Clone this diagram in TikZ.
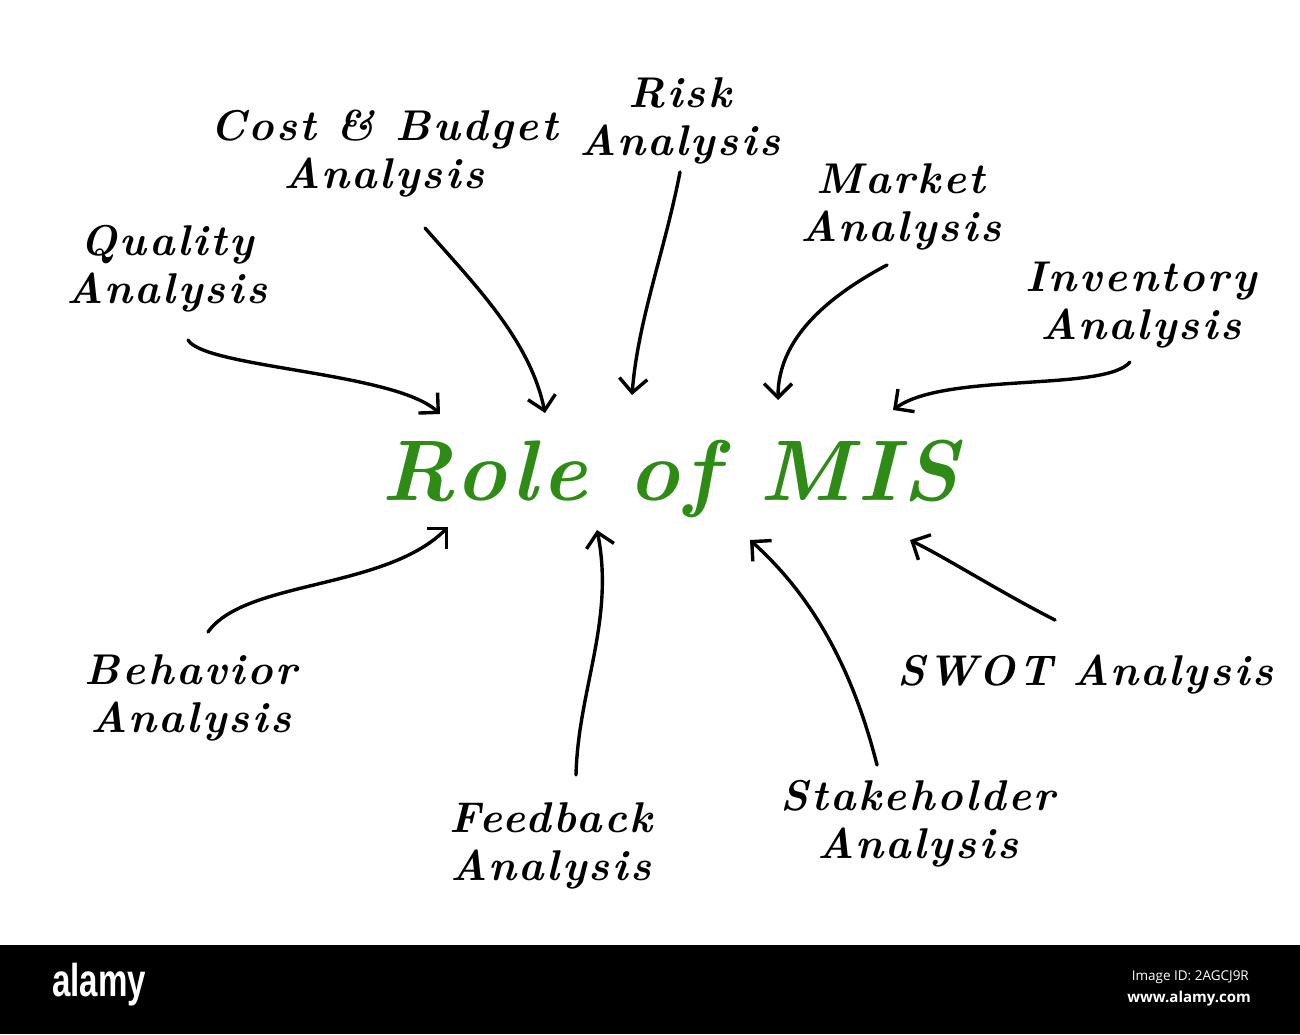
\documentclass[tikz,border=0pt]{standalone}
\usepackage{fontspec}
\usetikzlibrary{arrows.meta}
\newfontfamily\hand{Latin Modern Roman}[LetterSpace=6]
\newfontfamily\wmfont[FakeStretch=0.72]{Liberation Sans}
\newfontfamily\wmsans{Open Sans}
\definecolor{misgreen}{RGB}{46,139,22}
\tikzset{
  lbl/.style={font=\hand\bfseries\itshape\fontsize{43}{48}\selectfont, align=center, inner sep=0pt, text=black},
  title/.style={font=\hand\bfseries\itshape\fontsize{86}{86}\selectfont, text=misgreen, inner sep=0pt},
  arr/.style={line width=3.4pt, line cap=round, draw=black,
    -{Straight Barb[length=14pt,width=28pt,line width=3.4pt]}},
  wm/.style={text=white, inner sep=0pt, anchor=east},
}
\begin{document}
\begin{tikzpicture}[x=1pt,y=-1pt]
\fill[white] (0,0) rectangle (1300,1034);
\useasboundingbox (0,0) rectangle (1300,1034);
% watermark bar
\fill[black] (0,945) rectangle (1300,1034);
\node[text=white, inner sep=0pt, font=\wmfont\bfseries\fontsize{46}{46}\selectfont] (alamy) at (99,985) {alamy};
\node[wm, font=\wmsans\fontsize{13.5}{13.5}\selectfont] (imgid) at (1249,977) {Image ID: 2AGCJ9R};
\node[wm, font=\wmsans\bfseries\fontsize{15}{15}\selectfont] (www) at (1251,999) {www.alamy.com};

% centre
\node[title] (mis) at (670,479) {Role of MIS};

% labels
\node[lbl] (risk) at (680,121) {Risk\\Analysis};
\node[lbl] (cost) at (384,154) {Cost \& Budget\\Analysis};
\node[lbl] (quality) at (167,269) {Quality\\Analysis};
\node[lbl] (market) at (901,207) {Market\\Analysis};
\node[lbl] (inventory) at (1141,305) {Inventory\\Analysis};
\node[lbl] (behavior) at (191,698) {Behavior\\Analysis};
\node[lbl] (feedback) at (551,846) {Feedback\\Analysis};
\node[lbl] (stake) at (918,824) {Stakeholder\\Analysis};
\node[lbl] (swot) at (1085,675) {SWOT Analysis};

% connector end points
\coordinate (q0) at (188,340);  \coordinate (q1) at (440,414);
\coordinate (c0) at (425,228);  \coordinate (c1) at (545,413);
\coordinate (r0) at (680,172);  \coordinate (r1) at (632,395);
\coordinate (m0) at (887,265);  \coordinate (m1) at (778,400);
\coordinate (i0) at (1130,362); \coordinate (i1) at (893,410);
\coordinate (b0) at (208,632);  \coordinate (b1) at (448,527);
\coordinate (f0) at (576,775);  \coordinate (f1) at (597,530);
\coordinate (s0) at (877,765);  \coordinate (s1) at (750,540);
\coordinate (w0) at (1055,620); \coordinate (w1) at (910,540);

\draw[arr] (q0) .. controls (205,368) and (395,372) .. (q1);
\draw[arr] (c0) .. controls (475,285) and (530,340) .. (c1);
\draw[arr] (r0) .. controls (665,250) and (638,320) .. (r1);
\draw[arr] (m0) .. controls (825,298) and (778,340) .. (m1);
\draw[arr] (i0) .. controls (1105,392) and (945,372) .. (i1);
\draw[arr] (b0) .. controls (245,580) and (385,590) .. (b1);
\draw[arr] (f0) .. controls (578,690) and (615,620) .. (f1);
\draw[arr] (s0) .. controls (848,650) and (800,585) .. (s1);
\draw[arr] (w0) .. controls (1000,592) and (950,560) .. (w1);
\end{tikzpicture}
\end{document}
